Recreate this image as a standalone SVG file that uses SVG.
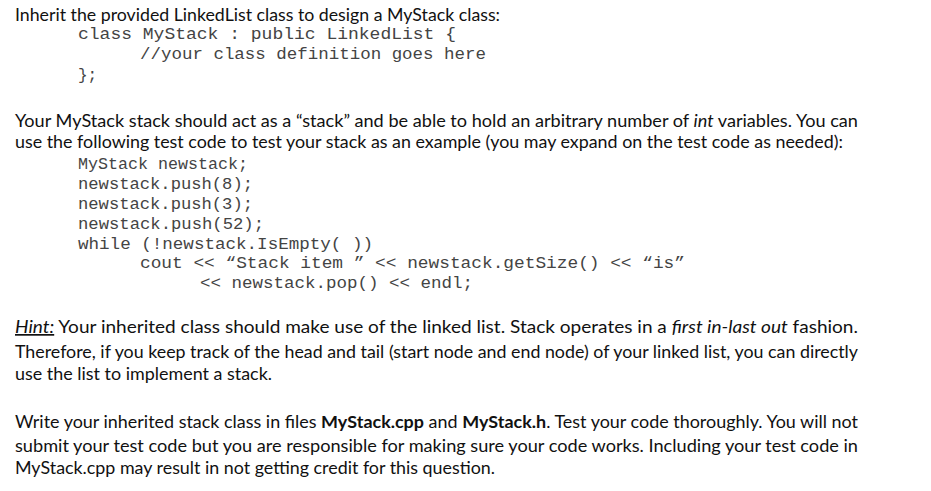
<svg xmlns="http://www.w3.org/2000/svg" width="931" height="491" viewBox="0 0 931 491">
<style>
.b{font-family:Lato,"Open Sans","Liberation Sans",sans-serif;font-size:17px;fill:#111}
.c{font-family:"Liberation Mono","DejaVu Sans Mono",monospace;font-size:16px;fill:#444}
.i{font-style:italic}
.bd{font-weight:bold}
</style>
<rect width="931" height="491" fill="#fff"/>
<g id="intro">
<text class="b" x="15" y="21" textLength="485" lengthAdjust="spacingAndGlyphs">Inherit the provided LinkedList class to design a MyStack class:</text>
<text class="c" x="78" y="39" textLength="378" lengthAdjust="spacingAndGlyphs">class MyStack : public LinkedList {</text>
<text class="c" x="140" y="59" textLength="346" lengthAdjust="spacingAndGlyphs">//your class definition goes here</text>
<text class="c" x="78" y="80">};</text>
</g>
<g id="task">
<text class="b" x="15" y="127" textLength="843" lengthAdjust="spacingAndGlyphs">Your MyStack stack should act as a “stack” and be able to hold an arbitrary number of <tspan class="i">int</tspan> variables. You can</text>
<text class="b" x="15" y="148" textLength="828" lengthAdjust="spacingAndGlyphs">use the following test code to test your stack as an example (you may expand on the test code as needed):</text>
<text class="c" x="78" y="169" textLength="170" lengthAdjust="spacingAndGlyphs">MyStack newstack;</text>
<text class="c" x="78" y="189" textLength="175" lengthAdjust="spacingAndGlyphs">newstack.push(8);</text>
<text class="c" x="78" y="209" textLength="175" lengthAdjust="spacingAndGlyphs">newstack.push(3);</text>
<text class="c" x="78" y="229" textLength="186" lengthAdjust="spacingAndGlyphs">newstack.push(52);</text>
<text class="c" x="78" y="249" textLength="295" lengthAdjust="spacingAndGlyphs">while (!newstack.IsEmpty( ))</text>
<text class="c" x="140" y="268" textLength="545" lengthAdjust="spacingAndGlyphs">cout &lt;&lt; “Stack item ” &lt;&lt; newstack.getSize() &lt;&lt; “is”</text>
<text class="c" x="200" y="288" textLength="273" lengthAdjust="spacingAndGlyphs">&lt;&lt; newstack.pop() &lt;&lt; endl;</text>
</g>
<g id="hint">
<text class="b" x="15" y="333" textLength="843" lengthAdjust="spacingAndGlyphs"><tspan class="i" text-decoration="underline">Hint:</tspan> Your inherited class should make use of the linked list. Stack operates in a <tspan class="i">first in-last out</tspan> fashion.</text>
<text class="b" x="15" y="358" textLength="843" lengthAdjust="spacingAndGlyphs">Therefore, if you keep track of the head and tail (start node and end node) of your linked list, you can directly</text>
<text class="b" x="15" y="380" textLength="257" lengthAdjust="spacingAndGlyphs">use the list to implement a stack.</text>
</g>
<g id="submit">
<text class="b" x="15" y="428" textLength="843" lengthAdjust="spacingAndGlyphs">Write your inherited stack class in files <tspan class="bd">MyStack.cpp</tspan> and <tspan class="bd">MyStack.h</tspan>. Test your code thoroughly. You will not</text>
<text class="b" x="15" y="452" textLength="843" lengthAdjust="spacingAndGlyphs">submit your test code but you are responsible for making sure your code works. Including your test code in</text>
<text class="b" x="15" y="474" textLength="480" lengthAdjust="spacingAndGlyphs">MyStack.cpp may result in not getting credit for this question.</text>
</g>
</svg>
